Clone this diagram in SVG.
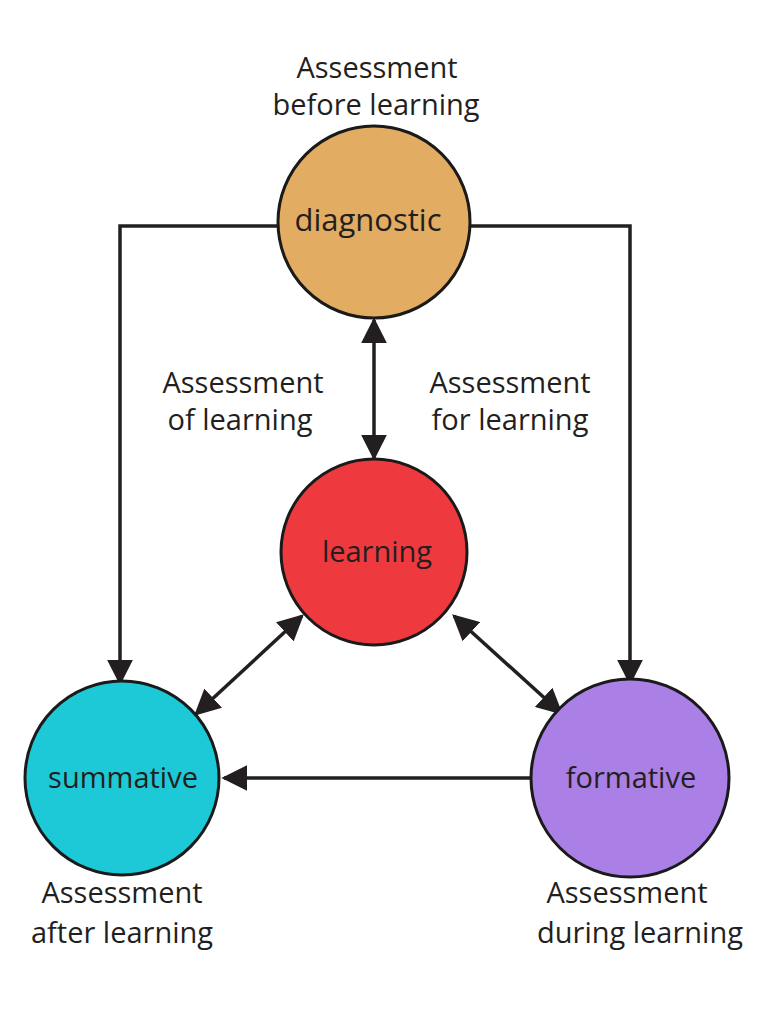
<svg xmlns="http://www.w3.org/2000/svg" width="768" height="1024" viewBox="0 0 768 1024">
<style>
.n{stroke:#1a1a1a;stroke-width:3}
.t{font-family:"Open Sans",sans-serif;font-size:29px;fill:#231f20;text-anchor:middle}
.c{stroke:#231f20;stroke-width:3.5;fill:none}
</style>
<defs>
<marker id="b" viewBox="0 0 10 10" refX="9" refY="5" markerWidth="26" markerHeight="26" orient="auto-start-reverse" markerUnits="userSpaceOnUse"><path d="M0,0L10,5L0,10z" fill="#231f20"/></marker>
</defs>
<rect width="768" height="1024" fill="#fff"/>
<g id="connectors">
<path class="c" d="M278,226H120V683" marker-end="url(#b)"/>
<path class="c" d="M470,226H630V683" marker-end="url(#b)"/>
<path class="c" d="M530,778H224" marker-end="url(#b)"/>
<path class="c" d="M374,320V458" marker-start="url(#b)" marker-end="url(#b)"/>
<path class="c" d="M302,616L196,714" marker-start="url(#b)" marker-end="url(#b)"/>
<path class="c" d="M454,616L561,713" marker-start="url(#b)" marker-end="url(#b)"/>
</g>
<g id="diagnostic"><circle class="n" cx="374" cy="222" r="96" fill="#E2AC62"/><text class="t" x="368" y="231" style="font-size:31px">diagnostic</text></g>
<g id="learning"><circle class="n" cx="374" cy="552" r="93" fill="#EE3A3E"/><text class="t" x="377" y="562">learning</text></g>
<g id="summative"><circle class="n" cx="122" cy="778" r="97" fill="#1DC9D6"/><text class="t" x="123" y="788">summative</text></g>
<g id="formative"><circle class="n" cx="630" cy="778" r="99" fill="#AA80E6"/><text class="t" x="631" y="788">formative</text></g>
<g id="labels">
<text class="t" x="377" y="78">Assessment</text><text class="t" x="376" y="115">before learning</text>
<text class="t" x="243" y="393">Assessment</text><text class="t" x="240" y="430">of learning</text>
<text class="t" x="510" y="393">Assessment</text><text class="t" x="510" y="430">for learning</text>
<text class="t" x="122" y="903">Assessment</text><text class="t" x="122" y="943">after learning</text>
<text class="t" x="627" y="903">Assessment</text><text class="t" x="640" y="943">during learning</text>
</g>
</svg>
